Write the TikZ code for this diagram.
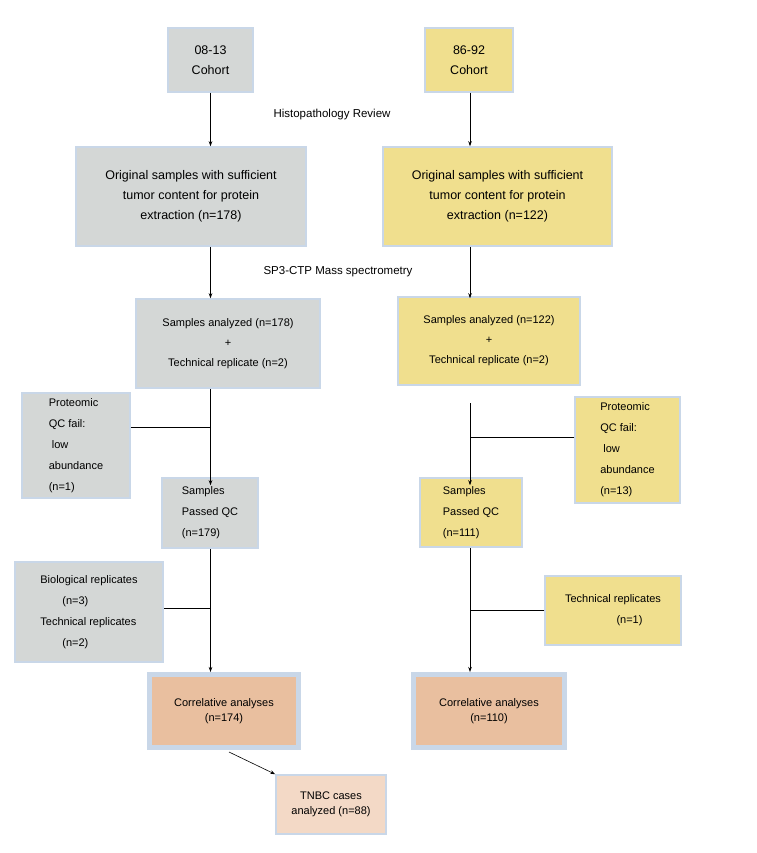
\documentclass[tikz,border=0pt]{standalone}
\usepackage{fontspec}
\setmainfont{Liberation Sans}
\usetikzlibrary{arrows.meta}
\definecolor{boxgray}{HTML}{D4D7D6}
\definecolor{boxyellow}{HTML}{F0DF8E}
\definecolor{boxorange}{HTML}{E9BF9F}
\definecolor{boxpeach}{HTML}{F3D9C6}
\definecolor{edgeblue}{HTML}{C9D7E8}
\tikzset{
    box/.style = {draw=edgeblue, line width=1.5pt, inner sep=0pt, align=center,
                  font=\fontsize{11}{15}\selectfont},
    grey/.style = {box, fill=boxgray},
    yell/.style = {box, fill=boxyellow},
    res/.style = {box, fill=boxorange, line width=5pt},
    flow/.style = {-{Stealth[length=5pt,width=3.5pt]}, line width=0.6pt},
    link/.style = {line width=0.8pt}}

\begin{document}
\begin{tikzpicture}[x=1pt, y=-1pt]
\useasboundingbox (0,0) rectangle (756,853);

% cohorts
\node[grey, minimum width=85, minimum height=64, font=\fontsize{12.5}{20}\selectfont] (cohA) at (210.5,60) {08-13\\Cohort};
\node[yell, minimum width=88, minimum height=64, font=\fontsize{12.5}{20}\selectfont] (cohB) at (469,60) {86-92\\Cohort};
\node[font=\fontsize{11.5}{14}\selectfont] (histo) at (332,115) {Histopathology Review};

% original samples
\node[grey, minimum width=230, minimum height=99, font=\fontsize{12.5}{20}\selectfont] (origA) at (191,196.5)
    {Original samples with sufficient\\tumor content for protein\\extraction (n=178)};
\node[yell, minimum width=229, minimum height=99, font=\fontsize{12.5}{20}\selectfont] (origB) at (497.5,196.5)
    {Original samples with sufficient\\tumor content for protein\\extraction (n=122)};
\node[font=\fontsize{11.5}{14}\selectfont] (sp3) at (338,272) {SP3-CTP Mass spectrometry};

% analyzed
\node[grey, minimum width=184, minimum height=89, font=\fontsize{11}{20}\selectfont] (anaA) at (228,343.5)
    {Samples analyzed (n=178)\\+\\Technical replicate (n=2)};
\node[yell, minimum width=182, minimum height=88, font=\fontsize{11}{20}\selectfont] (anaB) at (489,341)
    {Samples analyzed (n=122)\\+\\Technical replicate (n=2)};

% QC fail
\node[grey, minimum width=108, minimum height=105, align=left, font=\fontsize{11}{21}\selectfont] (failA) at (76,445.5)
    {Proteomic\\QC fail:\\\ low\\abundance\\(n=1)};
\node[yell, minimum width=105, minimum height=106, align=left, font=\fontsize{11}{21}\selectfont] (failB) at (627.5,450)
    {Proteomic\\QC fail:\\\ low\\abundance\\(n=13)};

% passed
\node[grey, minimum width=96, minimum height=70, align=left, font=\fontsize{11}{21}\selectfont] (passA) at (210,513)
    {Samples\\Passed QC\\(n=179)};
\node[yell, minimum width=102, minimum height=69, align=left, font=\fontsize{11}{21}\selectfont] (passB) at (471,512.5)
    {Samples\\Passed QC\\(n=111)};

% replicates
\node[grey, minimum width=148, minimum height=100, align=left, font=\fontsize{11}{21}\selectfont] (repA) at (89,612)
    {Biological replicates\\\hspace{2em}(n=3)\\Technical replicates\\\hspace{2em}(n=2)};
\node[yell, minimum width=136, minimum height=69, font=\fontsize{11}{21}\selectfont] (repB) at (613,610.5)
    {Technical replicates\\\hspace{3em}(n=1)};

% results
\node[res, minimum width=149, minimum height=73] (corA) at (224,711) {Correlative analyses\\(n=174)};
\node[res, minimum width=151, minimum height=73] (corB) at (489,711) {Correlative analyses\\(n=110)};
\node[box, fill=boxpeach, minimum width=110, minimum height=59] (tnbc) at (331,804.5) {TNBC cases\\analyzed (n=88)};

% left flow
\draw[flow] (cohA) -- (origA.north -| cohA);
\draw[flow] (origA.south -| cohA) -- (anaA.north -| cohA);
\draw[flow] (anaA.south -| cohA) -- ([yshift=-8]passA.north -| cohA);
\draw[flow] (passA.south -| cohA) -- (corA.north -| cohA);
\draw[link] (failA.east |- 0,427) -- (211,427);
\draw[link] (repA.east |- 0,608) -- (211,608);
\draw[flow] (229,752) -- (tnbc.north west);

% right flow
\coordinate (rx) at (470,0);
\draw[flow] (cohB.south -| rx) -- (origB.north -| rx);
\draw[flow] (origB.south -| rx) -- ([yshift=-2]anaB.north -| rx);
\draw[flow] (470,403) -- ([yshift=-8]passB.north -| rx);
\draw[flow] (passB.south -| rx) -- (corB.north -| rx);
\draw[link] (failB.west |- 0,437) -- (470,437);
\draw[link] (repB.west |- 0,610) -- (470,610);
\end{tikzpicture}
\end{document}
